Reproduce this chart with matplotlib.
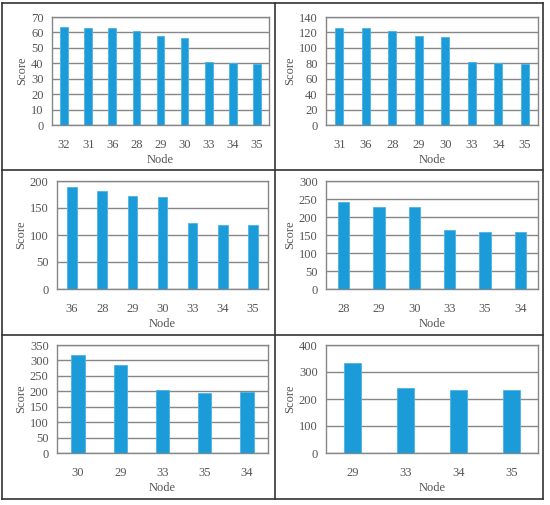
import matplotlib.pyplot as plt
from matplotlib.lines import Line2D

# Data for the six panels (node order as shown, score)
nodes_1 = ["32", "31", "36", "28", "29", "30", "33", "34", "35"]
score_1 = [63.5, 63.1, 62.7, 60.7, 57.5, 56.6, 41.1, 40.5, 39.6]

nodes_2 = ["31", "36", "28", "29", "30", "33", "34", "35"]
score_2 = [126.2, 125.4, 121.5, 115.0, 114.2, 82.3, 80.6, 79.3]

nodes_3 = ["36", "28", "29", "30", "33", "34", "35"]
score_3 = [189.0, 181.5, 171.7, 170.5, 123.0, 119.4, 119.4]

nodes_4 = ["28", "29", "30", "33", "35", "34"]
score_4 = [242.8, 229.0, 229.0, 163.4, 158.8, 158.8]

nodes_5 = ["30", "29", "33", "35", "34"]
score_5 = [318.6, 285.0, 203.7, 196.0, 197.0]

nodes_6 = ["29", "33", "34", "35"]
score_6 = [333.0, 239.0, 232.8, 231.6]

y_max = [70, 140, 200, 300, 350, 400]
y_step = [10, 20, 50, 50, 50, 100]

W, H = 550, 505
plt.rcParams["font.family"] = ["Liberation Serif", "DejaVu Serif"]
plt.rcParams["font.size"] = 9

fig = plt.figure(figsize=(W / 100, H / 100), dpi=100)

# axes rectangles in pixels: left, top, right, bottom
rects = [
    (52, 17, 269, 125),
    (326, 17, 538, 125),
    (57, 181, 268, 289),
    (326, 181, 538, 289),
    (57, 345, 268, 453),
    (326, 345, 538, 453),
]

panels = [(nodes_1, score_1), (nodes_2, score_2), (nodes_3, score_3),
          (nodes_4, score_4), (nodes_5, score_5), (nodes_6, score_6)]

bar_color = "#1b9bd7"
grid_color = "#878787"
text_color = "#555555"

for i, (nodes, scores) in enumerate(panels):
    l, t, r, b = rects[i]
    ax = fig.add_axes([l / W, 1 - b / H, (r - l) / W, (b - t) / H])
    x = range(len(nodes))
    ax.bar(x, scores, width=0.32, color=bar_color, edgecolor="#4db3e3",
           linewidth=0.6, zorder=3)
    ax.set_xlim(-0.5, len(nodes) - 0.5)
    ax.set_ylim(0, y_max[i])
    ax.set_yticks(range(0, y_max[i] + 1, y_step[i]))
    ax.set_xticks(list(x))
    ax.set_xticklabels(nodes)
    ax.grid(axis="y", color=grid_color, linewidth=1.0, zorder=0)
    ax.set_axisbelow(True)
    for sp in ax.spines.values():
        sp.set_color(grid_color)
        sp.set_linewidth(1.0)
    ax.tick_params(axis="x", length=0, pad=10, labelsize=9, colors=text_color)
    ax.tick_params(axis="y", length=0, pad=6, labelsize=9, colors=text_color)
    ax.set_xlabel("Node", fontsize=9, color=text_color, labelpad=2)
    ax.set_ylabel("Score", fontsize=9, color=text_color, labelpad=2)

# cell borders
border = "#333333"
def hline(y, x0, x1):
    fig.add_artist(Line2D([x0 / W, x1 / W], [1 - y / H, 1 - y / H],
                          color=border, linewidth=1.2))

def vline(x, y0, y1):
    fig.add_artist(Line2D([x / W, x / W], [1 - y0 / H, 1 - y1 / H],
                          color=border, linewidth=1.2))

hline(3, 2, 543)
hline(170, 2, 543)
hline(335, 2, 543)
hline(499, 2, 543)
vline(2, 3, 499)
vline(275, 3, 499)
vline(543, 3, 499)

fig.savefig("out.png", dpi=100)
